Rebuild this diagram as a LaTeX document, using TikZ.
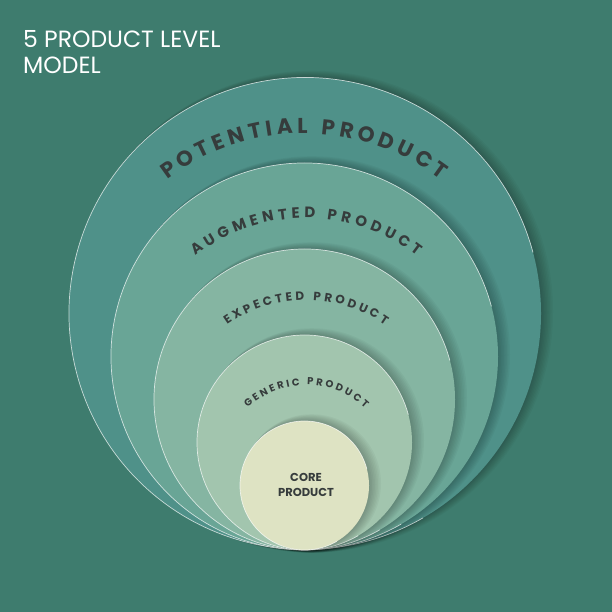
\documentclass[tikz,border=0pt]{standalone}
\usepackage{fontspec}
\setmainfont{Poppins}
\usetikzlibrary{decorations.text}
\definecolor{bg}{HTML}{3E7C6E}
\definecolor{c1}{HTML}{4F9189}
\definecolor{c2}{HTML}{69A596}
\definecolor{c3}{HTML}{85B5A2}
\definecolor{c4}{HTML}{A2C5AE}
\definecolor{c5}{HTML}{DEE3C3}
\definecolor{txt}{HTML}{363C3C}
\tikzset{
  ring/.style={circle, inner sep=0pt, outer sep=0pt, fill=#1},
  rim/.style={white, opacity=0.7, line width=0.7pt},
  arctext/.style n args={2}{decorate, decoration={text along path, text align={fit to path},
      text={|\bfseries\fontsize{#1}{#1}\selectfont\color{txt}|#2}}},
  title/.style={anchor=base west, text=white, inner sep=0pt, font=\fontsize{23.5}{23.5}\selectfont},
  coretext/.style={anchor=base, text=txt, inner sep=0pt, font=\bfseries\fontsize{11.5}{11.5}\selectfont}
}
\begin{document}
\begin{tikzpicture}[x=1pt,y=1pt]
\useasboundingbox (0,0) rectangle (612,612);
\fill[bg] (0,0) rectangle (612,612);
\foreach \cx/\cy/\r/\col/\nm in {305/298.5/236/c1/potential, 304.5/255.5/193.5/c2/augmented, 304.5/212.5/150.5/c3/expected, 304.5/169.5/107.5/c4/generic, 304.5/126.5/64.5/c5/core}{
  \foreach \k in {1,...,8}{
    \fill[black, opacity=0.03] (\cx+0.9*\k,\cy+0.25*\k) circle (\r+0.6*\k);
  }
  \node[ring=\col, minimum size={2*\r*1pt}] (\nm) at (\cx,\cy) {};
  \draw[rim] (\nm.15) arc[start angle=15, end angle=300, radius=\r];
}
\path[arctext={21.5}{POTENTIAL PRODUCT}] (304,251.5) ++(127.1:227) arc[start angle=127.1, end angle=52.9, radius=227];
\path[arctext={15}{AUGMENTED PRODUCT}] (306,213) ++(127.8:181) arc[start angle=127.8, end angle=52.2, radius=181];
\path[arctext={12}{EXPECTED PRODUCT}] (306,174.7) ++(125.1:137.3) arc[start angle=125.1, end angle=54.9, radius=137.3];
\path[arctext={10}{GENERIC PRODUCT}] (306.3,140.6) ++(132.8:86.4) arc[start angle=132.8, end angle=47.2, radius=86.4];
\node[coretext] (corel1) at (306,130) {CORE};
\node[coretext] (corel2) at (306,115) {PRODUCT};
\node[title] (title1) at (23,564) {5 PRODUCT LEVEL};
\node[title] (title2) at (23,538) {MODEL};
\end{tikzpicture}
\end{document}
